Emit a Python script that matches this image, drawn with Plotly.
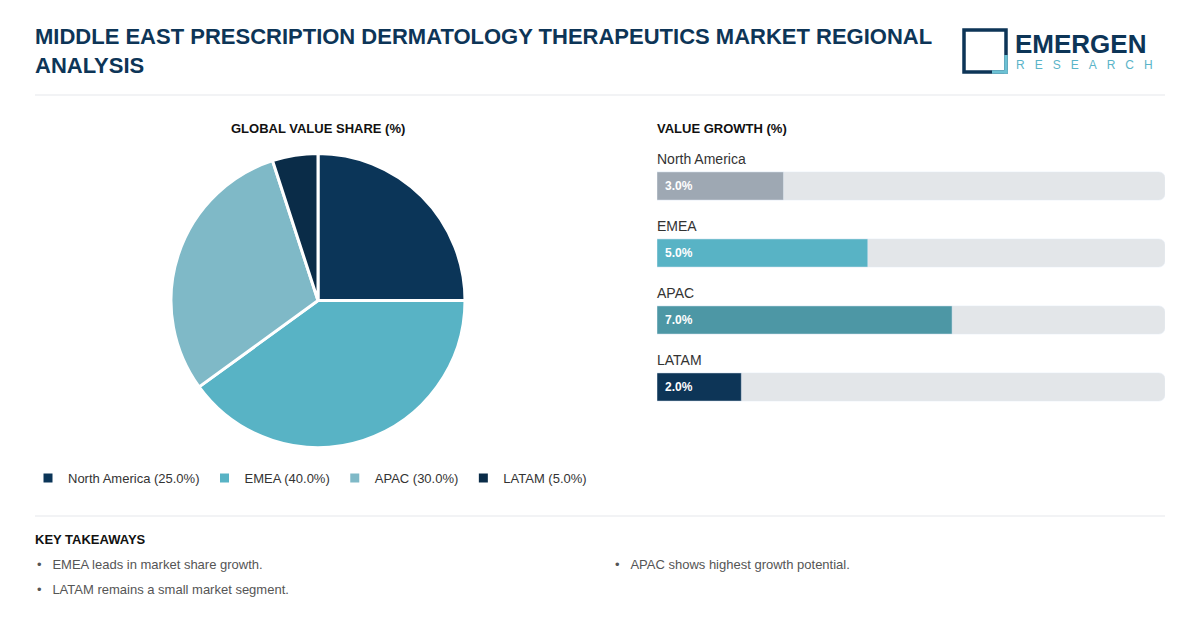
import plotly.graph_objects as go

# Data
regions = ["North America", "EMEA", "APAC", "LATAM"]
value_share = [25.0, 40.0, 30.0, 5.0]
value_growth = [3.0, 5.0, 7.0, 2.0]
share_colors = ["#0b3558", "#58b3c5", "#7fb9c7", "#0a2c48"]
growth_colors = ["#9ea8b3", "#58b3c5", "#4d97a5", "#0d3557"]
takeaways_left = ["EMEA leads in market share growth.", "LATAM remains a small market segment."]
takeaways_right = ["APAC shows highest growth potential."]

W, H = 1200, 620
OFF = 8  # page body margin
FONT = "Liberation Sans, Arial, sans-serif"
NAVY = "#0d3557"
X_MAX = 12.05  # growth axis extent


def px(x):
    return (x - OFF) / W


def py(y):
    return 1 - (y - OFF) / H


fig = go.Figure()

# pie - global value share
fig.add_trace(go.Pie(
    labels=[f"{r} ({v:.1f}%)" for r, v in zip(regions, value_share)],
    values=value_share,
    sort=False,
    direction="clockwise",
    rotation=0,
    textinfo="none",
    marker=dict(colors=share_colors, line=dict(color="white", width=3)),
    domain=dict(x=[px(171), px(465)], y=[py(448), py(153)]),
    hovertemplate="%{label}<extra></extra>",
))

# bar tracks + value growth bars
fig.add_trace(go.Bar(
    x=[X_MAX] * len(regions), y=regions, orientation="h",
    marker=dict(color="#e3e6e9", cornerradius=6),
    width=0.42, showlegend=False, hoverinfo="skip",
    xaxis="x", yaxis="y",
))
fig.add_trace(go.Bar(
    x=value_growth, y=regions, orientation="h",
    marker=dict(color=growth_colors, cornerradius=6),
    width=0.42, showlegend=False,
    hovertemplate="%{y}: %{x:.1f}%<extra></extra>",
    xaxis="x", yaxis="y",
))

annotations = []
for r, v in zip(regions, value_growth):
    annotations.append(dict(
        x=0, y=r, xref="x", yref="y", text=r, showarrow=False,
        xanchor="left", yanchor="middle", yshift=27, xshift=-2,
        font=dict(family=FONT, size=14, color="#333333"),
    ))
    annotations.append(dict(
        x=0, y=r, xref="x", yref="y", text=f"<b>{v:.1f}%</b>", showarrow=False,
        xanchor="left", yanchor="middle", xshift=6,
        font=dict(family=FONT, size=12, color="white"),
    ))

NB = "\u00a0"
research = (NB * 3).join("RESEARCH")

# headings and texts
annotations += [
    dict(x=px(33), y=py(51), text="<b>MIDDLE EAST PRESCRIPTION DERMATOLOGY THERAPEUTICS MARKET REGIONAL<br>ANALYSIS</b>",
         xanchor="left", yanchor="middle", align="left",
         font=dict(family=FONT, size=22, color=NAVY)),
    dict(x=px(318), y=py(128), text="<b>GLOBAL VALUE SHARE (%)</b>",
         xanchor="center", yanchor="middle", font=dict(family=FONT, size=13, color="#111111")),
    dict(x=px(655), y=py(128), text="<b>VALUE GROWTH (%)</b>",
         xanchor="left", yanchor="middle", font=dict(family=FONT, size=13, color="#111111")),
    dict(x=px(33), y=py(539), text="<b>KEY TAKEAWAYS</b>",
         xanchor="left", yanchor="middle", font=dict(family=FONT, size=13, color="#111111")),
    # logo text
    dict(x=px(1014), y=py(44), text="<b>EMERGEN</b>", borderpad=0,
         xanchor="left", yanchor="middle", font=dict(family=FONT, size=26, color=NAVY)),
    dict(x=px(1015), y=py(65), text=research, borderpad=0,
         xanchor="left", yanchor="middle", font=dict(family=FONT, size=12, color="#5ab4c8")),
]
for i, t in enumerate(takeaways_left):
    annotations.append(dict(x=px(35), y=py(564 + 25 * i), text="•" + NB * 3 + t,
                            xanchor="left", yanchor="middle",
                            font=dict(family=FONT, size=13, color="#555555")))
for i, t in enumerate(takeaways_right):
    annotations.append(dict(x=px(613), y=py(564 + 25 * i), text="•" + NB * 3 + t,
                            xanchor="left", yanchor="middle",
                            font=dict(family=FONT, size=13, color="#555555")))

for a in annotations:
    a.setdefault("xref", "paper")
    a.setdefault("yref", "paper")
    a.setdefault("showarrow", False)

shapes = [
    dict(type="line", xref="paper", yref="paper", x0=px(35), x1=px(1165), y0=py(95), y1=py(95),
         line=dict(color="#e5e7eb", width=1)),
    dict(type="line", xref="paper", yref="paper", x0=px(35), x1=px(1165), y0=py(516), y1=py(516),
         line=dict(color="#e5e7eb", width=1)),
    # logo square
    dict(type="rect", xref="paper", yref="paper", x0=px(964), x1=px(1006), y0=py(72), y1=py(30),
         line=dict(color=NAVY, width=3.5)),
    dict(type="line", xref="paper", yref="paper", x0=px(992), x1=px(1007.5), y0=py(72), y1=py(72),
         line=dict(color="#6cc1d3", width=3.5)),
    dict(type="line", xref="paper", yref="paper", x0=px(1006), x1=px(1006), y0=py(73.5), y1=py(55),
         line=dict(color="#6cc1d3", width=3.5)),
]

fig.update_layout(
    width=W, height=H,
    margin=dict(l=0, r=0, t=0, b=0),
    paper_bgcolor="white", plot_bgcolor="white",
    font=dict(family=FONT, size=13, color="#333333"),
    barmode="overlay",
    xaxis=dict(domain=[px(657), px(1165)], range=[0, X_MAX], visible=False, fixedrange=True),
    yaxis=dict(domain=[py(420.5), py(152.5)], range=[3.5, -0.5], visible=False,
               categoryorder="array", categoryarray=regions, fixedrange=True),
    showlegend=True,
    legend=dict(orientation="h", x=px(28), y=py(478), xanchor="left", yanchor="middle",
                font=dict(family=FONT, size=13, color="#333333"),
                bgcolor="rgba(0,0,0,0)", itemclick=False, itemdoubleclick=False),
    annotations=annotations,
    shapes=shapes,
)

fig.write_html("out.html")
